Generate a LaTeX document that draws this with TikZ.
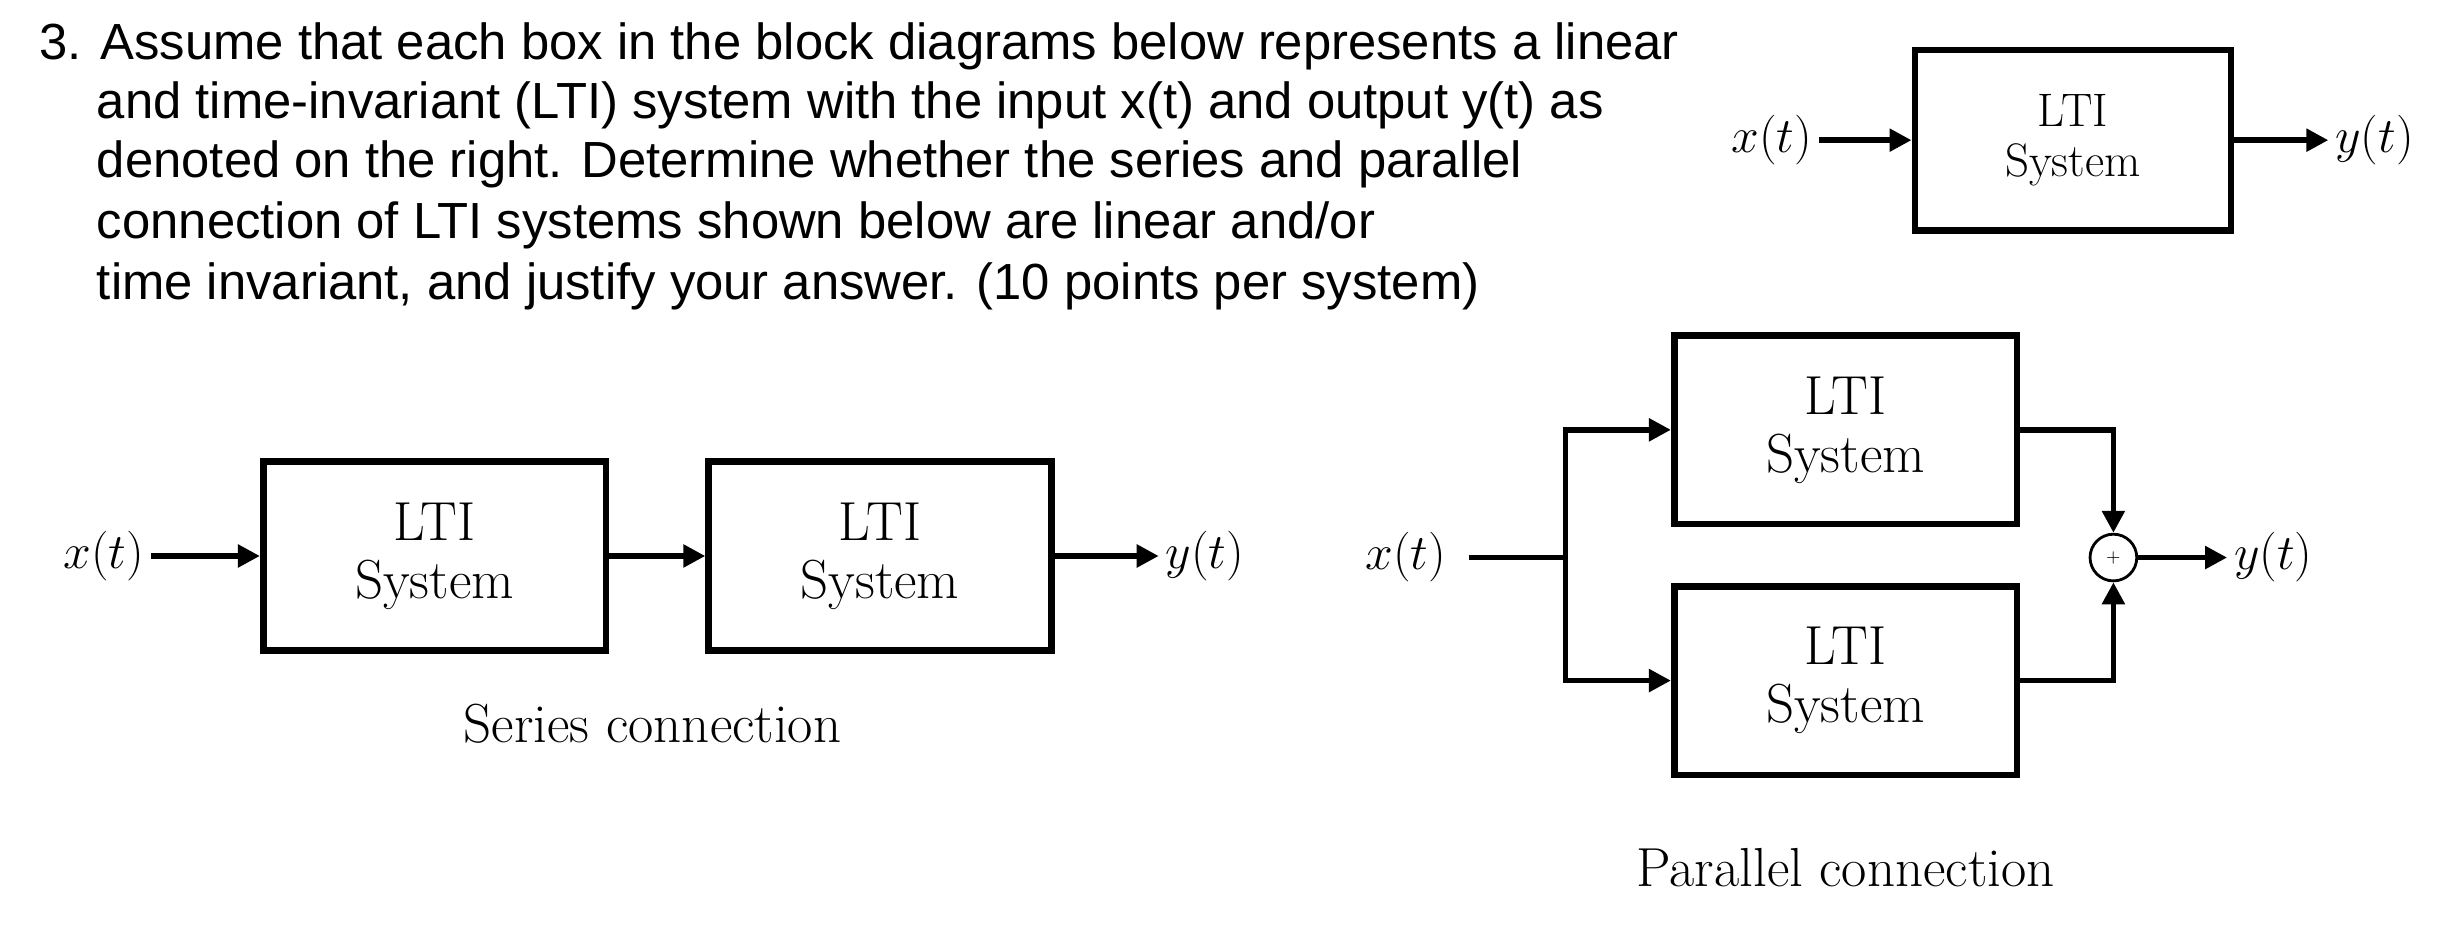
\documentclass[tikz,border=0pt]{standalone}
\usepackage{fontspec}
\newfontfamily\sansf{Liberation Sans}
\usetikzlibrary{arrows.meta}
\begin{document}
\begin{tikzpicture}[x=0.7787pt,y=-0.7787pt,
  blk/.style={draw,line width=3.3pt,minimum width=220*0.7787pt,minimum height=121*0.7787pt,align=center,font=\fontsize{27.5}{29}\selectfont},
  sblk/.style={blk,minimum width=203*0.7787pt,minimum height=116*0.7787pt,font=\fontsize{23.5}{25}\selectfont},
  arr/.style={line width=2.7pt,-{Triangle[length=11pt,width=11pt]}},
  ln/.style={line width=2.7pt},
  lab/.style={font=\fontsize{27.5}{28}\selectfont},
  para/.style={anchor=base west,inner sep=0pt,font=\sansf\fontsize{25.4}{27}\selectfont}]
\useasboundingbox (0,0) rectangle (1568,605);
% paragraph
\node[para] (p1) at (25,38) {3. Assume that each box in the block diagrams below represents a linear};
\node[para] (p2) at (62,76) {and time-invariant (LTI) system with the input x(t) and output y(t) as};
\node[para] (p3) at (62,114) {denoted on the right. Determine whether the series and parallel};
\node[para] (p4) at (62,153) {connection of LTI systems shown below are linear and/or};
\node[para] (p5) at (62,192) {time invariant, and justify your answer. (10 points per system)};
% top-right
\node[sblk] (t) at (1331,90) {LTI\\System};
\node[font=\fontsize{23.5}{22}\selectfont,anchor=east] (tx) at (1168,90) {$x(t)$};
\node[font=\fontsize{23.5}{22}\selectfont,anchor=west] (ty) at (1495,90) {$y(t)$};
\draw[arr] (tx) -- (t);
\draw[arr] (t) -- (ty);
% series
\node[blk] (s1) at (279,357) {LTI\\System};
\node[blk] (s2) at (565,357) {LTI\\System};
\node[lab,anchor=east] (sx) at (97,357) {$x(t)$};
\node[lab,anchor=west] (sy) at (744,357) {$y(t)$};
\draw[arr] (sx) -- (s1);
\draw[arr] (s1) -- (s2);
\draw[arr] (s2) -- (sy);
\node[lab] (sc) at (419,465) {Series connection};
% parallel
\node[blk] (p1b) at (1185,276) {LTI\\System};
\node[blk] (p2b) at (1185,437) {LTI\\System};
\node[lab,anchor=east] (px) at (933,358) {$x(t)$};
\coordinate (br) at (1005,358);
\node[draw,circle,line width=1.4pt,minimum size=30*0.7787pt,inner sep=0pt,font=\small] (sum) at (1357,358) {$+$};
\node[lab,anchor=west] (py) at (1430,358) {$y(t)$};
\draw[ln] (px.east) ++(10,0) -- (br);
\draw[arr] (br) |- (p1b.west);
\draw[arr] (br) |- (p2b.west);
\draw[arr] (p1b.east) -| (sum.north);
\draw[arr] (p2b.east) -| (sum.south);
\draw[arr] (sum) -- (py);
\node[lab] (pc) at (1185,557) {Parallel connection};
\end{tikzpicture}
\end{document}
